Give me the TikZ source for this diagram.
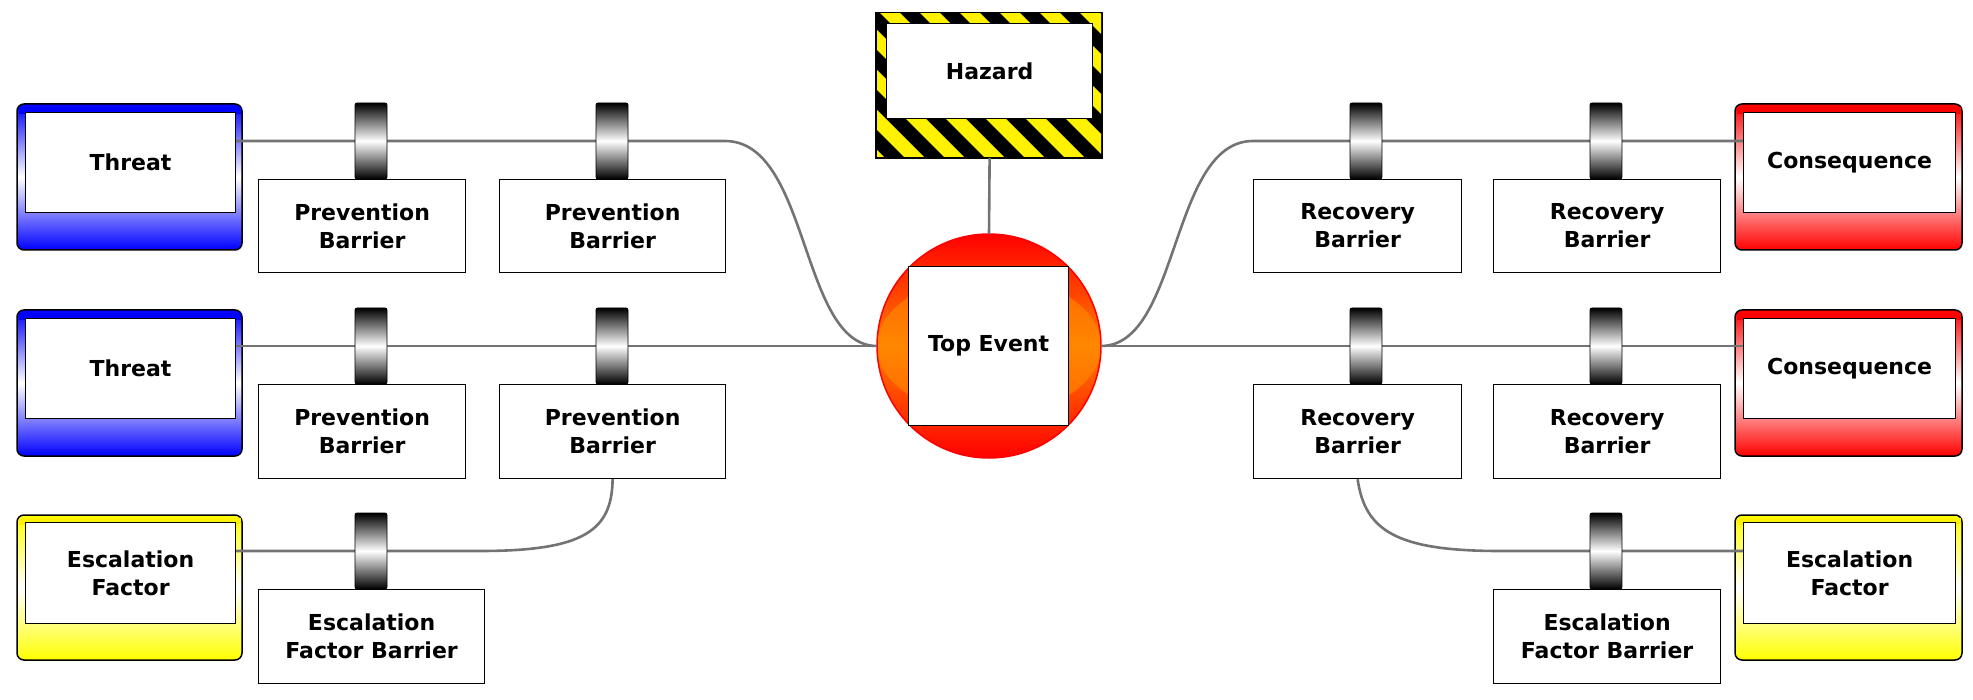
\documentclass[tikz,border=0pt]{standalone}
\usepackage{fontspec}
\setmainfont{DejaVu Sans}
\begin{document}
\begin{tikzpicture}[x=1pt,y=-1pt,
  lbl/.style={font=\bfseries\fontsize{22}{28}\selectfont,align=center},
  wbox/.style={draw=black,line width=1.2pt,fill=white,lbl},
  conn/.style={draw=black!55,line width=2.6pt},
  cyl/.style={draw=black,line width=0.8pt,rounded corners=2pt,top color=black,bottom color=black,middle color=white}]
\useasboundingbox (0,0) rectangle (1973,700);
\newcommand{\outerbox}[6]{%
  \draw[rounded corners=7pt,line width=1.5pt,top color=#6,bottom color=#6,middle color=white] (#2,#3) rectangle (#4,#5);
  \fill[#6] (#2+1.5,#3+10) rectangle (#4-1.5,#3+3);
}
\newcommand{\innerbox}[6]{\node[wbox,minimum width=#4-#2,minimum height=#5-#3,anchor=north west] (#1) at (#2,#3) {#6};}
\outerbox{t1}{17}{104}{242}{250}{blue}
\innerbox{t1}{25}{112}{235}{212}{Threat}
\outerbox{t2}{17}{310}{242}{456}{blue}
\innerbox{t2}{25}{318}{235}{418}{Threat}
\outerbox{e1}{17}{515}{242}{660}{yellow}
\innerbox{e1}{25}{522}{235}{623}{Escalation\\Factor}
\outerbox{c1}{1735}{104}{1962}{250}{red}
\innerbox{c1}{1743}{112}{1955}{212}{Consequence}
\outerbox{c2}{1735}{310}{1962}{456}{red}
\innerbox{c2}{1743}{318}{1955}{418}{Consequence}
\outerbox{e2}{1735}{515}{1962}{660}{yellow}
\innerbox{e2}{1743}{522}{1955}{623}{Escalation\\Factor}
% Hazard
\draw[line width=1.5pt,fill=black] (876,13) rectangle (1102,158);
\begin{scope}
\clip (877,14) rectangle (1101,157);
\foreach \i in {0,...,12} {
  \fill[yellow] (720+\i*40,13) -- (740+\i*40,13) -- (740+\i*40+145,158) -- (720+\i*40+145,158) -- cycle;
}
\end{scope}
\innerbox{hz}{886}{23}{1092}{118}{Hazard}
% Top event
\shade[top color=red,bottom color=red,middle color=orange] (989,346) circle (112);
\fill[orange!90!yellow,opacity=0.6] (989,346) ellipse (112 and 70);
\draw[red,line width=1.5pt] (989,346) circle (112);
\coordinate (teL) at (877,346);
\coordinate (teR) at (1101,346);
\innerbox{te}{908}{266}{1068}{425}{Top Event}
% connectors
\draw[conn] (t1.east |- 0,141) -- (725,141) .. controls (810,141) and (800,346) .. (teL);
\draw[conn] (t2.east |- 0,346) -- (teL);
\draw[conn] (teR) .. controls (1180,346) and (1170,141) .. (1253,141) -- (c1.west |- 0,141);
\draw[conn] (teR) -- (c2.west |- 0,346);
\draw[conn] (hz.south |- 0,158) -- (989,234);
\innerbox{p1}{258}{179}{465}{272}{Prevention\\Barrier}
\innerbox{p2}{499}{179}{725}{272}{Prevention\\Barrier}
\innerbox{p3}{258}{384}{465}{478}{Prevention\\Barrier}
\innerbox{p4}{499}{384}{725}{478}{Prevention\\Barrier}
\innerbox{r1}{1253}{179}{1461}{272}{Recovery\\Barrier}
\innerbox{r2}{1493}{179}{1720}{272}{Recovery\\Barrier}
\innerbox{r3}{1253}{384}{1461}{478}{Recovery\\Barrier}
\innerbox{r4}{1493}{384}{1720}{478}{Recovery\\Barrier}
\innerbox{eb1}{258}{589}{484}{683}{Escalation\\Factor Barrier}
\innerbox{eb2}{1493}{589}{1720}{683}{Escalation\\Factor Barrier}
\draw[conn] (e1.east |- 0,551) -- (480,551) .. controls (585,551) and (612,530) .. (p4.south);
\draw[conn] (e2.west |- 0,551) -- (1500,551) .. controls (1395,551) and (1365,530) .. (r3.south);
\foreach \x/\y in {371/141,612/141,371/346,612/346,1366/141,1606/141,1366/346,1606/346,371/551,1606/551}{
  \draw[cyl] (\x-16,\y-38) rectangle (\x+16,\y+38);
}
\end{tikzpicture}
\end{document}
